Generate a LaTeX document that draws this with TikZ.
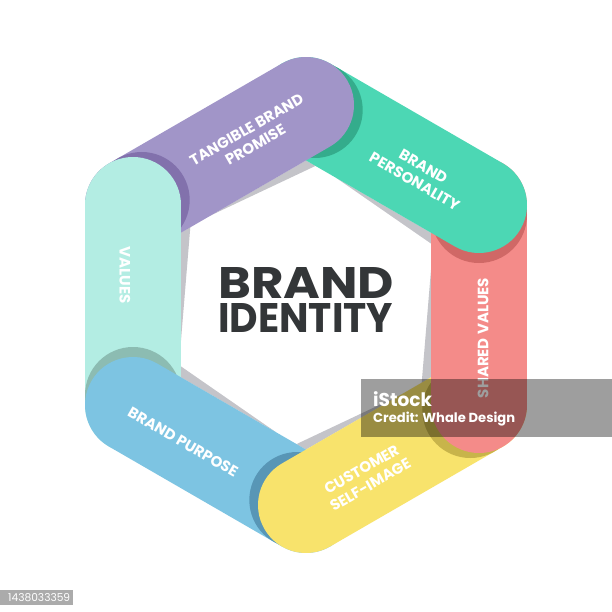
\documentclass[tikz,border=0pt]{standalone}
\usepackage{fontspec}
\setmainfont{Poppins}
\usepackage{graphicx}
\definecolor{mintc}{RGB}{179,237,227}
\definecolor{dkmint}{RGB}{140,188,178}
\definecolor{purc}{RGB}{161,149,200}
\definecolor{dkpur}{RGB}{130,113,172}
\definecolor{grnc}{RGB}{76,215,180}
\definecolor{dkgrn}{RGB}{52,172,140}
\definecolor{redc}{RGB}{244,139,137}
\definecolor{dkred}{RGB}{208,104,102}
\definecolor{yelc}{RGB}{248,227,108}
\definecolor{dkyel}{RGB}{200,180,74}
\definecolor{bluc}{RGB}{125,196,226}
\definecolor{dkblu}{RGB}{88,150,182}
\definecolor{shad}{RGB}{196,196,201}
\definecolor{titc}{RGB}{51,54,56}
\definecolor{idgrey}{RGB}{171,171,171}
\begin{document}
\begin{tikzpicture}[x=1pt,y=-1pt,
  capsule/.style={line width=96pt, line cap=round},
  lbl/.style={text=white, font=\bfseries\fontsize{15}{17.5}\selectfont, align=center, inner sep=0pt},
  wedge/.style={fill=shad}]
\useasboundingbox (0,0) rectangle (612,612);
\fill[white] (0,0) rectangle (612,612);
% outer vertices
\coordinate (VUL) at (133,205);
\coordinate (VT)  at (306,105);
\coordinate (VUR) at (479,205);
\coordinate (VLR) at (479,405);
\coordinate (VB)  at (306,505);
\coordinate (VLL) at (133,405);
% inner shadow wedges
\fill[wedge] (180.8,232.7) -- (190.3,227.2) -- (180.8,342.7) -- cycle;
\fill[wedge] (306,160.4) -- (315.5,165.9) -- (210.7,215.4) -- cycle;
\fill[wedge] (431.2,232.7) -- (431.2,243.7) -- (335.9,177.7) -- cycle;
\fill[wedge] (431.2,377.3) -- (421.7,382.8) -- (431.2,267.3) -- cycle;
\fill[wedge] (306,449.6) -- (296.5,444.1) -- (401.3,394.6) -- cycle;
\fill[wedge] (180.8,377.3) -- (180.8,366.3) -- (276.1,432.3) -- cycle;
% capsules in overlap order
\draw[capsule, draw=mintc] (VLL) -- (VUL);
\fill[dkmint] (133,395) circle[radius=48pt];
\draw[capsule, draw=bluc] (VB) -- (VLL);
\fill[dkblu] (297.3,500) circle[radius=48pt];
\draw[capsule, draw=yelc] (VLR) -- (VB);
\fill[dkyel] (470.3,410) circle[radius=48pt];
\draw[capsule, draw=redc] (VUR) -- (VLR);
\fill[dkred] (479,215) circle[radius=48pt];
\draw[capsule, draw=grnc] (VT) -- (VUR);
\fill[dkgrn] (314.7,110) circle[radius=48pt];
\draw[capsule, draw=purc] (VUL) -- (VT);
\fill[dkpur] (141.7,200) circle[radius=48pt];
\fill[mintc] (85,205) rectangle (181,300);
\fill[mintc] (VUL) circle[radius=48pt];
% labels
\node[lbl, rotate=30] (tbp) at (251,137) {TANGIBLE BRAND\\PROMISE};
\node[lbl, rotate=-30] (bpe) at (419,174) {BRAND\\PERSONALITY};
\node[lbl, rotate=90] (shv) at (483,338) {SHARED VALUES};
\node[lbl, rotate=30] (csi) at (366,477) {CUSTOMER\\SELF-IMAGE};
\node[lbl, rotate=-30] (bpu) at (183,442) {BRAND PURPOSE};
\node[lbl, rotate=-90] (val) at (125,275) {VALUES};
% title
\node[anchor=south west, inner sep=0pt, text=titc] (t1) at (218,299) {\resizebox{176pt}{31pt}{\bfseries BRAND}};
\node[anchor=south west, inner sep=0pt, text=titc] (t2) at (218,333) {\resizebox{175pt}{29pt}{\bfseries IDENTITY}};
% watermark
\fill[black, opacity=0.38] (361,379) rectangle (612,437);
\node[anchor=south west, inner sep=0pt, text=white] (wm1) at (373,407) {\resizebox{59pt}{!}{\bfseries iStock}};
\node[anchor=south west, inner sep=0pt, text=white] (wm2) at (373,426) {\resizebox{142pt}{!}{\bfseries Credit: Whale Design}};
% id tag
\fill[idgrey] (0,590) rectangle (73,605);
\node[anchor=south west, inner sep=0pt, text=white] (id) at (8,602) {\resizebox{62pt}{8pt}{1438033359}};
\end{tikzpicture}
\end{document}
